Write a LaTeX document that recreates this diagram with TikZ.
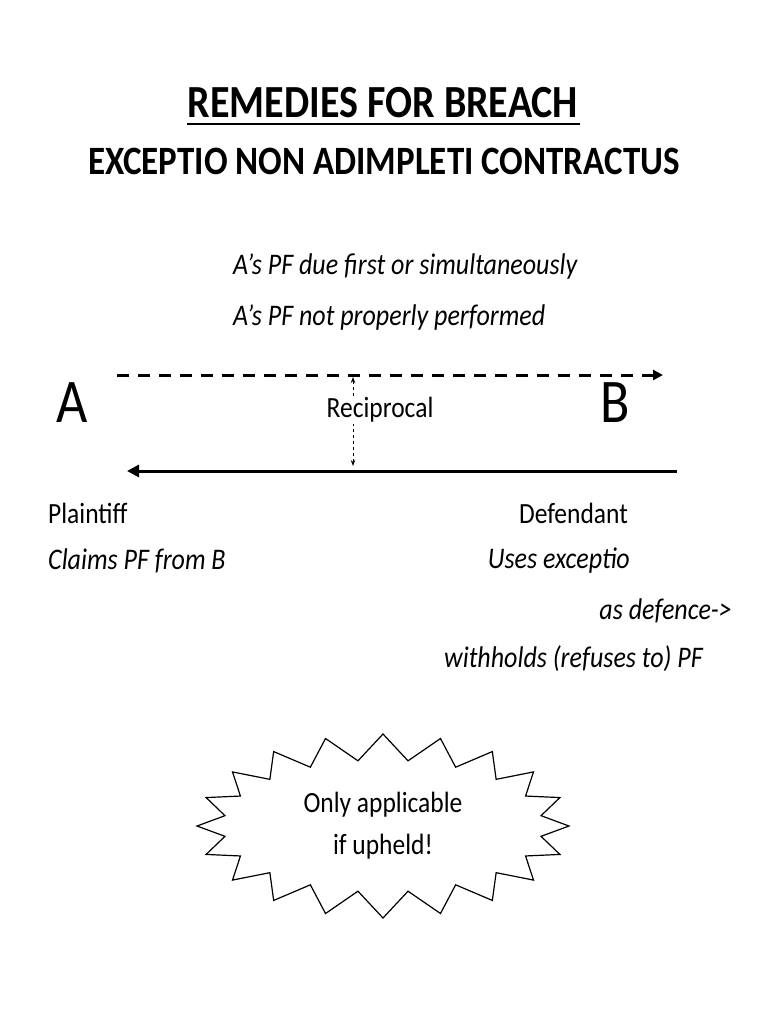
\documentclass[tikz,border=0pt]{standalone}
\usepackage{fontspec}
\setmainfont{Carlito}
\usetikzlibrary{shapes.symbols,arrows.meta}
\newcommand{\tall}[1]{\scalebox{1}[1.15]{#1}}
\begin{document}
\begin{tikzpicture}[x=1pt,y=-1pt,
  txt/.style={inner sep=0pt,font=\fontsize{25.5}{28}\selectfont},
  it/.style={inner sep=0pt,font=\fontsize{26}{28}\selectfont\itshape}]
\useasboundingbox (0,0) rectangle (768,1024);
\node[inner sep=0pt,font=\fontsize{40}{44}\selectfont\bfseries] (t1) at (383,103) {\tall{REMEDIES FOR BREACH}};
\draw[line width=2pt] (187,124) -- (580,124);
\node[inner sep=0pt,font=\fontsize{35}{36}\selectfont\bfseries] (t2) at (384,161) {\tall{EXCEPTIO NON ADIMPLETI CONTRACTUS}};
\node[it,anchor=west] (c1) at (233,267) {\tall{A’s PF due first or simultaneously}};
\node[it,anchor=west] (c2) at (233,318) {\tall{A’s PF not properly performed}};
\node[inner sep=0pt,font=\fontsize{54}{56}\selectfont] (A) at (72,403) {\tall{A}};
\node[inner sep=0pt,font=\fontsize{54}{56}\selectfont] (B) at (615,403) {\tall{B}};
\coordinate (d1) at (117,375); \coordinate (d2) at (663,375);
\coordinate (s1) at (677,471); \coordinate (s2) at (127,471);
\draw[line width=3pt,dash pattern=on 12pt off 9pt,-{Triangle[length=10pt,width=10pt]}] (d1) -- (d2);
\draw[line width=3pt,-{Triangle[length=12pt,width=12pt]}] (s1) -- (s2);
\coordinate (r1) at (353,377); \coordinate (r2) at (353,466);
\draw[line width=1pt,dash pattern=on 3pt off 3pt,{Stealth[length=6pt]}-{Stealth[length=6pt]}] (r1) -- (r2);
\node[txt,fill=white,inner sep=1pt] (rec) at (380,410) {\tall{Reciprocal}};
\node[txt,anchor=west] (p) at (48,513) {\tall{Plaintiff}};
\node[it,anchor=west] (p2) at (48,561) {\tall{Claims PF from B}};
\node[txt,anchor=east] (d) at (628,513) {\tall{Defendant}};
\node[it,anchor=east] (dd2) at (630,561) {\tall{Uses exceptio}};
\node[it,anchor=east] (dd3) at (732,611) {\tall{as defence->}};
\node[it,anchor=east] (dd4) at (703,659) {\tall{withholds (refuses to) PF}};
\node[draw,line width=1.2pt,starburst,starburst points=20,random starburst=0,starburst point height=26pt,minimum width=372pt,minimum height=184pt,
  align=center,font=\fontsize{25.5}{42}\selectfont] (star) at (383,826) {\tall{Only applicable}\\\tall{if upheld!}};
\end{tikzpicture}
\end{document}
